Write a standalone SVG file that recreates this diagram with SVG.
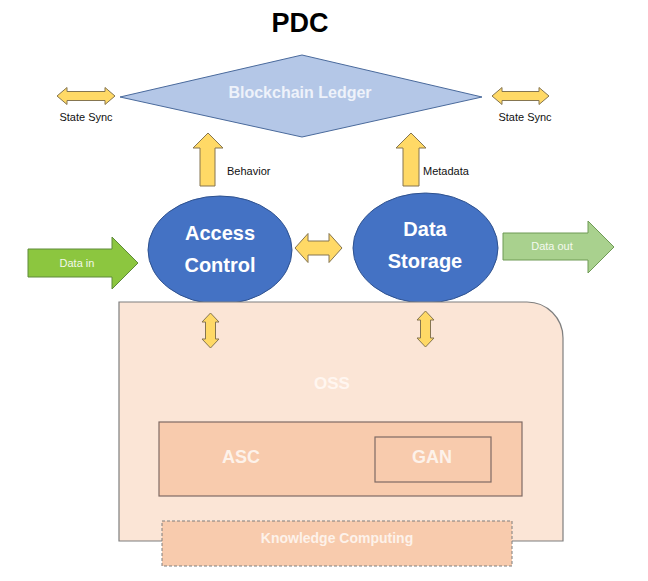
<svg xmlns="http://www.w3.org/2000/svg" width="648" height="581" viewBox="0 0 648 581">
<style>
text { font-family: "Liberation Sans", Arial, sans-serif; }
.yarrow { fill: #ffd966; stroke: #857550; stroke-width: 1; }
.lbl { font-size: 11px; fill: #111; }
.wt { fill: #ffffff; font-weight: bold; text-anchor: middle; }
.ell { fill: #4472c4; stroke: #2f528f; stroke-width: 1; }
.peach { fill: #f8cbad; stroke: #7f6a64; stroke-width: 1.2; }
</style>
<rect width="648" height="581" fill="#ffffff"/>
<text x="300" y="32" font-size="27" font-weight="bold" text-anchor="middle" fill="#000">PDC</text>

<g id="ledger">
<polygon points="120,97 302,55 482,97 302,137" fill="#b4c7e7" stroke="#4a6a9c" stroke-width="1"/>
<text x="300" y="98" font-size="16" class="wt" fill="#eef2fa" style="fill:#eef2fa">Blockchain Ledger</text>
</g>

<g id="state-sync-left">
<text x="86" y="121" class="lbl" text-anchor="middle">State Sync</text>
</g>
<g id="state-sync-right">
<text x="525" y="121" class="lbl" text-anchor="middle">State Sync</text>
</g>

<g id="access-control">
<ellipse cx="220" cy="250" rx="72" ry="54" class="ell"/>
<text x="220" y="240" font-size="20" class="wt">Access</text>
<text x="220" y="272" font-size="20" class="wt">Control</text>
</g>

<g id="data-storage">
<ellipse cx="425.5" cy="248" rx="72.5" ry="55" class="ell"/>
<text x="425" y="236" font-size="20" class="wt">Data</text>
<text x="425" y="268" font-size="20" class="wt">Storage</text>
</g>

<g id="data-in">
<path d="M28,249 L112,249 L112,237 L138,263 L112,289 L112,277 L28,277 Z" fill="#8cc63f" stroke="#5e8a3a" stroke-width="1"/>
<text x="77" y="267" font-size="11" text-anchor="middle" fill="#f2f8ea">Data in</text>
</g>

<g id="data-out">
<path d="M503,233 L588,233 L588,221 L614,247 L588,273 L588,260 L503,260 Z" fill="#a9d18e" stroke="#6f9a55" stroke-width="1"/>
<text x="552" y="250" font-size="11" text-anchor="middle" fill="#f4f9ef">Data out</text>
</g>

<g id="oss">
<path d="M119,302 L527,302 A36,36 0 0 1 563,338 L563,541 L119,541 Z" fill="#fbe5d6" stroke="#7f7f7f" stroke-width="1.2"/>
<text x="332" y="389" font-size="17" class="wt" style="fill:#fff6f0">OSS</text>
</g>

<g id="asc">
<rect x="159" y="422" width="363" height="74" class="peach"/>
<text x="241" y="463" font-size="18" class="wt" style="fill:#fdf2ea">ASC</text>
</g>

<g id="gan">
<rect x="375" y="437" width="116" height="45" class="peach"/>
<text x="432" y="463" font-size="18" class="wt" style="fill:#fdf2ea">GAN</text>
</g>

<g id="knowledge-computing">
<rect x="162" y="521" width="350" height="45" fill="#f8cbad" stroke="#7f7f7f" stroke-width="1" stroke-dasharray="3,2"/>
<text x="337" y="543" font-size="14" class="wt" style="fill:#fdf2ea">Knowledge Computing</text>
</g>

<g id="connectors">
<path class="yarrow" d="M57,96 L67,87.5 L67,91.5 L105,91.5 L105,87.5 L115,96 L105,104.5 L105,100.5 L67,100.5 L67,104.5 Z"/>
<path class="yarrow" d="M492,96 L502,87.5 L502,91.5 L539,91.5 L539,87.5 L549,96 L539,104.5 L539,100.5 L502,100.5 L502,104.5 Z"/>
<path class="yarrow" d="M208,133 L223,148 L215,148 L215,186 L200,186 L200,148 L193,148 Z"/>
<text x="227" y="175" class="lbl">Behavior</text>
<path class="yarrow" d="M411,133 L426,148 L419,148 L419,186 L403,186 L403,148 L396,148 Z"/>
<text x="423" y="175" class="lbl">Metadata</text>
<path class="yarrow" d="M295,248 L308,233.5 L308,241 L329,241 L329,233.5 L342,248 L329,262.5 L329,255 L308,255 L308,262.5 Z"/>
<path class="yarrow" d="M210.5,313 L219,322 L215.5,322 L215.5,339 L219,339 L210.5,348 L202,339 L205.5,339 L205.5,322 L202,322 Z"/>
<path class="yarrow" d="M425.5,311 L434,320 L430.5,320 L430.5,338 L434,338 L425.5,347 L417,338 L420.5,338 L420.5,320 L417,320 Z"/>
</g>
</svg>
